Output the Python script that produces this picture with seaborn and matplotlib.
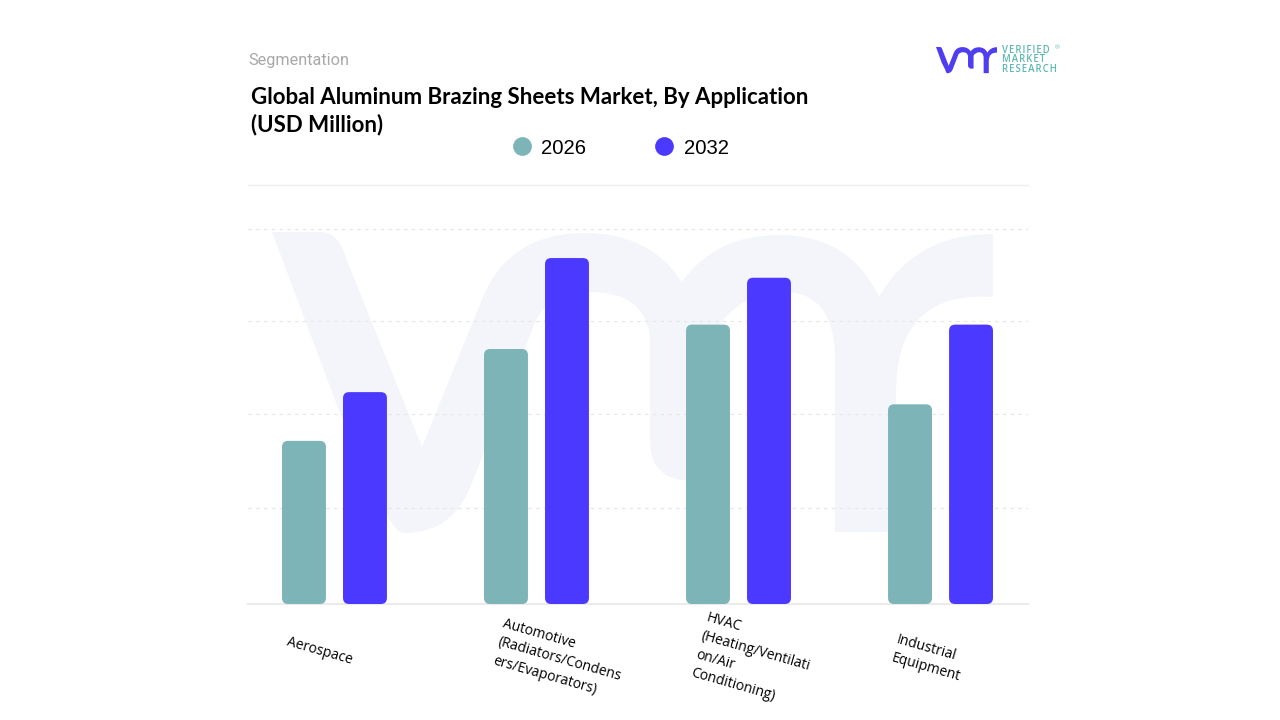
# Imports
import pandas as pd
import seaborn as sns
import matplotlib.pyplot as plt
from matplotlib.lines import Line2D
from matplotlib.patches import FancyBboxPatch, PathPatch
from matplotlib.path import Path
from matplotlib.transforms import ScaledTranslation

# Data (no value axis is printed)
categories = ["Aerospace",
              "Automotive\n(Radiators/Condens\ners/Evaporators)",
              "HVAC\n(Heating/Ventilati\non/Air\nConditioning)",
              "Industrial\nEquipment"]
values_2026 = [174, 272, 298, 213]
values_2032 = [226, 369, 348, 298]
years = ["2026", "2032"]
grid_values = [102, 203, 302, 400]

TEAL = "#7cb4b8"
BLUE = "#4b39ff"
W, H = 1280, 720

df = pd.DataFrame({
    "category": categories * 2,
    "year": [years[0]] * 4 + [years[1]] * 4,
    "value": values_2026 + values_2032,
})

sns.set_theme(style="white")
plt.rcParams['font.family'] = ['Open Sans', 'DejaVu Sans']

fig = plt.figure(figsize=(12.8, 7.2), dpi=100, facecolor="white")

# Pixel canvas behind the chart, for the logo and its watermark
bg = fig.add_axes([0, 0, 1, 1], zorder=0)
bg.set_xlim(0, W)
bg.set_ylim(H, 0)
bg.axis("off")

M, L, Q = Path.MOVETO, Path.LINETO, Path.CURVE3
logo = [(M, 272, 232), (L, 323, 232), (Q, 339, 234), (L, 346, 258),
        (L, 422, 447), (L, 483, 297), (Q, 510, 233), (L, 585, 233),
        (Q, 650, 233), (L, 682, 282), (Q, 715, 235), (L, 779, 235),
        (Q, 850, 235), (L, 879, 297), (Q, 915, 234), (L, 993, 234),
        (L, 993, 297), (Q, 896, 290), (L, 896, 393), (L, 896, 532),
        (L, 835, 532), (L, 835, 353), (Q, 832, 292), (L, 784, 292),
        (Q, 740, 292), (L, 716, 330), (L, 716, 480), (L, 682, 480),
        (Q, 650, 476), (L, 650, 440), (L, 650, 337), (Q, 645, 292),
        (L, 590, 292), (Q, 550, 292), (L, 536, 320), (L, 473, 480),
        (Q, 455, 533), (L, 405, 533), (Q, 390, 533), (L, 380, 490),
        (L, 340, 413), (L, 272, 232)]


def draw_logo(scale_x, scale_y, dx, dy, color):
    verts = [(x * scale_x + dx, y * scale_y + dy) for _, x, y in logo]
    codes = [c for c, _, _ in logo]
    bg.add_patch(PathPatch(Path(verts, codes), facecolor=color, edgecolor="none"))


draw_logo(1, 1, 0, 0, "#f3f5fb")
draw_logo(0.0846, 0.0872, 936 - 272 * 0.0846, 47 - 232 * 0.0872, "#4f3df0")

for y, word in zip([50.5, 60, 69.5], ["VERIFIED", "MARKET", "RESEARCH"]):
    bg.text(1002, y, "\u200a".join(word), color="#5fb8b2", fontsize=6.9,
            fontweight="semibold", va="center", ha="left")
bg.text(1057, 47.5, "®", color="#6abdb8", fontsize=4.5, va="center", ha="center")

bg.text(248, 60, "Segmentation", color="#a8a8a8", fontsize=11.7,
        family="Roboto", va="center", ha="left")
bg.text(251, 97, "Global Aluminum Brazing Sheets Market, By Application",
        color="black", fontsize=16, fontweight="bold", family="Lato",
        va="center", ha="left")
bg.text(251, 125, "(USD Million)", color="black", fontsize=16, fontweight="bold",
        family="Lato", va="center", ha="left")

# Chart
ax = fig.add_axes([248 / W, 1 - 604 / H, 780 / W, 419 / H], zorder=1)
ax.patch.set_alpha(0)

sns.barplot(data=df, x="category", y="value", hue="year", hue_order=years,
            palette=[TEAL, BLUE], width=0.604, gap=0.28, saturation=1,
            legend=False, ax=ax)

ax.set_xlim(-0.428, 3.433)
ax.set_ylim(0, 419 / 0.9375)

# Swap the square bars for rounded ones
aspect = (100 / 93.75) * 202
for bar in list(ax.patches):
    x0, y0 = bar.get_xy()
    ax.add_patch(FancyBboxPatch((x0, y0), bar.get_width(), bar.get_height(),
                                boxstyle="round,pad=0,rounding_size=0.03",
                                mutation_aspect=aspect,
                                facecolor=bar.get_facecolor(), edgecolor="none",
                                zorder=3))
    bar.set_visible(False)

ax.set_yticks(grid_values)
ax.set_yticklabels([])
ax.grid(axis="y", color="#e6e6e6", linestyle=(0, (3, 4)), linewidth=0.8)
ax.set_axisbelow(True)
ax.set_xlabel("")
ax.set_ylabel("")
ax.tick_params(axis="both", length=0)

for side in ["left", "right"]:
    ax.spines[side].set_visible(False)
ax.spines["top"].set_color("#eeeeee")
ax.spines["top"].set_linewidth(1)
ax.spines["bottom"].set_color("#ebebeb")
ax.spines["bottom"].set_linewidth(1.5)

# Slanted category labels, each nudged to where it sits in the picture
ax.set_xticks(range(len(categories)))
ax.set_xticklabels(categories, rotation=-16, ha="left", va="top",
                   rotation_mode="anchor", fontsize=10, color="black",
                   linespacing=1.35, multialignment="left")
nudges = [(-45, -26), (-31, -8), (-30, -2), (-42, -24)]
for label, (dx, dy) in zip(ax.get_xticklabels(), nudges):
    label.set_transform(label.get_transform()
                        + ScaledTranslation(dx / 100, dy / 100, fig.dpi_scale_trans))

# Legend
handles = [Line2D([], [], linestyle="none", marker="o", markersize=13.5,
                  markerfacecolor=c, markeredgecolor="none") for c in [TEAL, BLUE]]
fig.legend(handles, years, ncol=2, frameon=False, loc="center left",
           bbox_to_anchor=(483.5 / W, 1 - 148 / H),
           prop={"family": "Liberation Sans", "size": 14.6}, labelcolor="black",
           columnspacing=2.85, handletextpad=-0.05)

fig.savefig("out.png", dpi=100)
